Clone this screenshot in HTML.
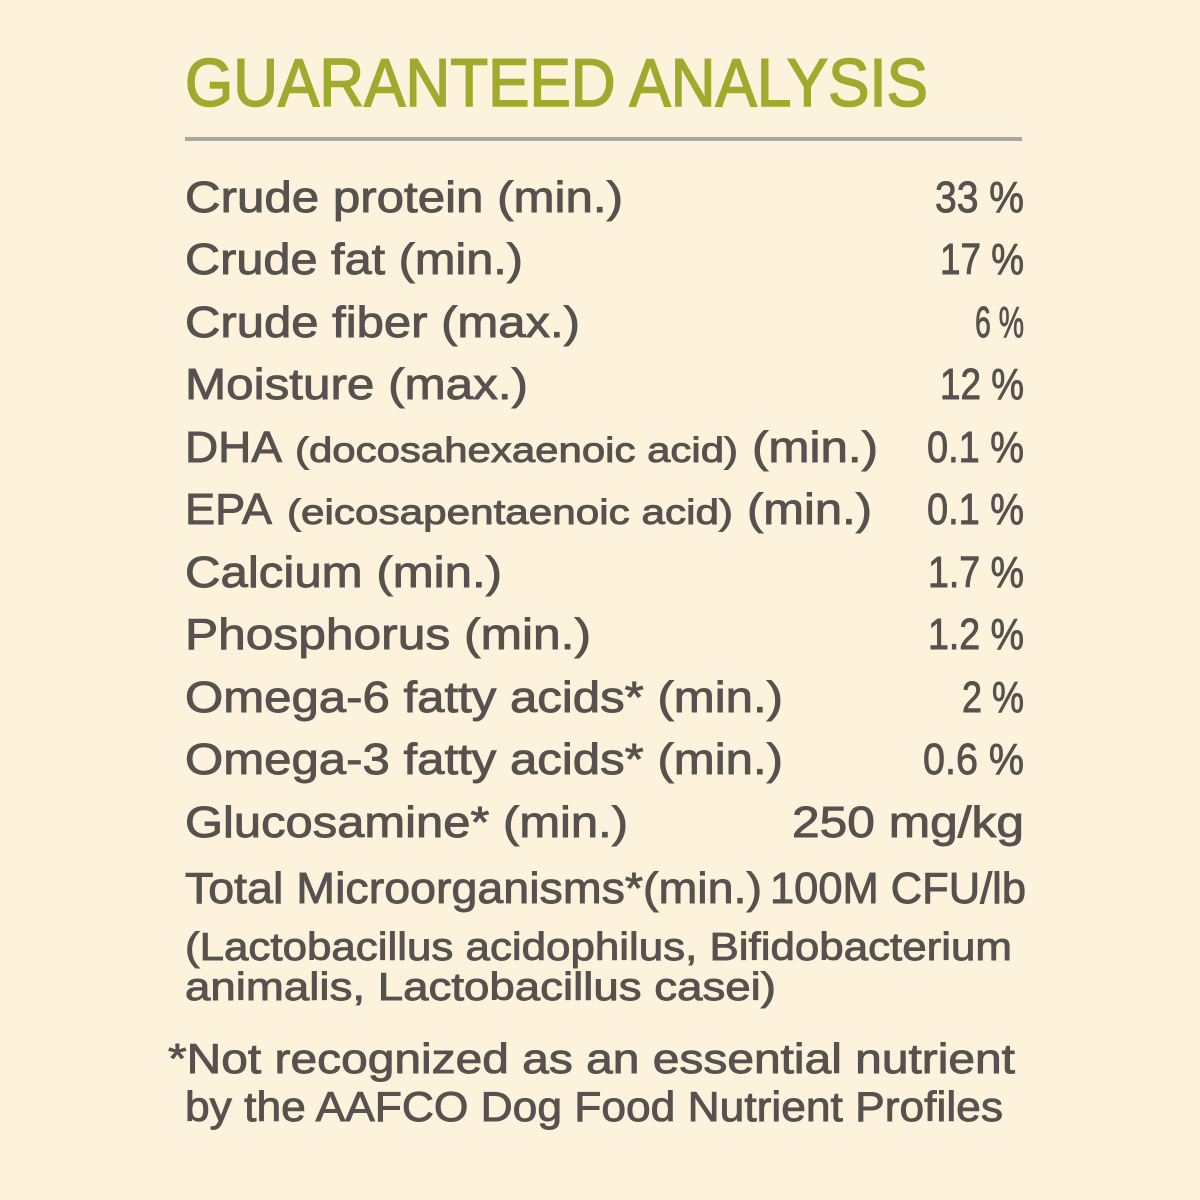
<!DOCTYPE html>
<html><head><meta charset="utf-8"><style>
html,body{margin:0;padding:0;background:#fdf3dc;}
svg{display:block}
text{font-family:"Liberation Sans",sans-serif;fill:#57514f;stroke:#57514f;stroke-width:0.9px;}
</style></head><body>
<svg width="1200" height="1200" viewBox="0 0 1200 1200" xmlns="http://www.w3.org/2000/svg">
<rect width="1200" height="1200" fill="#fdf3dc"/>
<text x="185" y="106" font-size="68" textLength="743" lengthAdjust="spacingAndGlyphs" style="fill:#a0aa2c;stroke:#a0aa2c;stroke-width:1.6px">GUARANTEED ANALYSIS</text>
<rect x="185" y="137" width="837" height="4" fill="#a9a7a2"/>
<g font-size="44">
<text x="185" y="212" textLength="438" lengthAdjust="spacingAndGlyphs">Crude protein (min.)</text>
<text x="935" y="212" textLength="89" lengthAdjust="spacingAndGlyphs">33 %</text>
<text x="185" y="274" textLength="338" lengthAdjust="spacingAndGlyphs">Crude fat (min.)</text>
<text x="940" y="274" textLength="84" lengthAdjust="spacingAndGlyphs">17 %</text>
<text x="185" y="337" textLength="395" lengthAdjust="spacingAndGlyphs">Crude fiber (max.)</text>
<text x="975" y="337" textLength="49" lengthAdjust="spacingAndGlyphs">6 %</text>
<text x="185" y="399" textLength="343" lengthAdjust="spacingAndGlyphs">Moisture (max.)</text>
<text x="940" y="399" textLength="84" lengthAdjust="spacingAndGlyphs">12 %</text>
<text x="185" y="462" textLength="97" lengthAdjust="spacingAndGlyphs">DHA</text>
<text x="295" y="462" font-size="35" textLength="443" lengthAdjust="spacingAndGlyphs">(docosahexaenoic acid)</text>
<text x="752" y="462" textLength="126" lengthAdjust="spacingAndGlyphs">(min.)</text>
<text x="927" y="462" textLength="97" lengthAdjust="spacingAndGlyphs">0.1 %</text>
<text x="185" y="524" textLength="87" lengthAdjust="spacingAndGlyphs">EPA</text>
<text x="287" y="524" font-size="35" textLength="446" lengthAdjust="spacingAndGlyphs">(eicosapentaenoic acid)</text>
<text x="747" y="524" textLength="125" lengthAdjust="spacingAndGlyphs">(min.)</text>
<text x="927" y="524" textLength="97" lengthAdjust="spacingAndGlyphs">0.1 %</text>
<text x="185" y="587" textLength="317" lengthAdjust="spacingAndGlyphs">Calcium (min.)</text>
<text x="928" y="587" textLength="96" lengthAdjust="spacingAndGlyphs">1.7 %</text>
<text x="185" y="649" textLength="406" lengthAdjust="spacingAndGlyphs">Phosphorus (min.)</text>
<text x="928" y="649" textLength="96" lengthAdjust="spacingAndGlyphs">1.2 %</text>
<text x="185" y="712" textLength="598" lengthAdjust="spacingAndGlyphs">Omega-6 fatty acids* (min.)</text>
<text x="962" y="712" textLength="62" lengthAdjust="spacingAndGlyphs">2 %</text>
<text x="185" y="774" textLength="598" lengthAdjust="spacingAndGlyphs">Omega-3 fatty acids* (min.)</text>
<text x="923" y="774" textLength="101" lengthAdjust="spacingAndGlyphs">0.6 %</text>
<text x="185" y="837" textLength="443" lengthAdjust="spacingAndGlyphs">Glucosamine* (min.)</text>
<text x="792" y="837" textLength="232" lengthAdjust="spacingAndGlyphs">250 mg/kg</text>
<text x="185" y="903" textLength="577" lengthAdjust="spacingAndGlyphs">Total Microorganisms*(min.)</text>
<text x="770" y="903" textLength="256" lengthAdjust="spacingAndGlyphs">100M CFU/lb</text>
</g>
<text x="185" y="960" font-size="39" textLength="827" lengthAdjust="spacingAndGlyphs">(Lactobacillus acidophilus, Bifidobacterium</text>
<text x="185" y="1000" font-size="39" textLength="591" lengthAdjust="spacingAndGlyphs">animalis, Lactobacillus casei)</text>
<text x="168" y="1073" font-size="42" textLength="847" lengthAdjust="spacingAndGlyphs">*Not recognized as an essential nutrient</text>
<text x="185" y="1121" font-size="42" textLength="818" lengthAdjust="spacingAndGlyphs">by the AAFCO Dog Food Nutrient Profiles</text>
</svg>
</body></html>
